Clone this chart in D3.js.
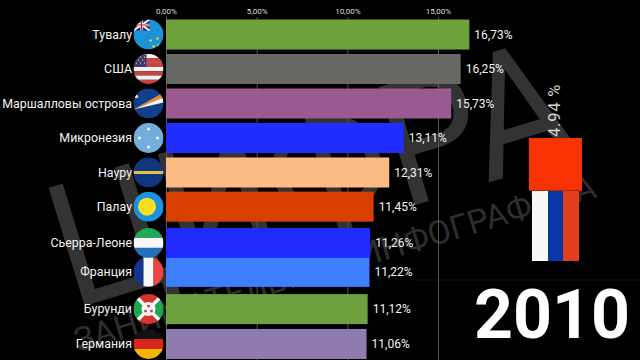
<!DOCTYPE html>
<html>
<head>
<meta charset="utf-8">
<script src="https://cdn.jsdelivr.net/npm/d3@7"></script>
<style>
  html, body { margin: 0; padding: 0; background: #000; overflow: hidden; }
  text { font-family: Roboto, sans-serif; }
</style>
</head>
<body>
<div id="graph-goes-here"></div>
<script>
const countries = ["Тувалу", "США", "Маршалловы острова", "Микронезия", "Науру", "Палау", "Сьерра-Леоне", "Франция", "Бурунди", "Германия"];
const flagCodes = ["tv", "us", "mh", "fm", "nr", "pw", "sl", "fr", "bi", "de"];
const shares = [16.73, 16.25, 15.73, 13.11, 12.31, 11.45, 11.26, 11.22, 11.12, 11.06];
const barColors = ["#6fa23c", "#666863", "#9a5a91", "#1f2eff", "#fdbb84", "#d83f00", "#1f2bff", "#3d7fff", "#6fa23f", "#8f7bb0"];
// the frame is caught mid-animation, so ranks are not all whole numbers
const ranks = [0, 1, 2, 3, 4, 4.99, 6.04, 6.88, 7.96, 8.97];
const axisTicks = [0, 5, 10, 15];

const russiaShare = 4.94;
const year = "2010";
const watermark = "ЦИФРА";
const watermarkSub = "ЗАНИМАТЕЛЬНАЯ ИНФОГРАФИКА";

const width = 640, height = 360;
const barH = 30;

const ru = d3.formatLocale({ decimal: ",", thousands: " ", grouping: [3], currency: ["", ""] });
const pct = v => ru.format(".2f")(v) + "%";

const x = d3.scaleLinear().domain([0, 15]).range([166, 438]);
const y = d3.scaleLinear().domain([0, 9]).range([19.5, 330]);
const russiaY = d3.scaleLinear().domain([0, russiaShare]).range([190.7, 138]);

const svg = d3.select("#graph-goes-here").append("svg")
    .attr("width", width)
    .attr("height", height)
    .style("display", "block");

svg.append("rect").attr("width", width).attr("height", height).attr("fill", "#000");

svg.append("defs").append("clipPath").attr("id", "flag-clip")
    .append("circle").attr("r", 15);

// Watermark goes behind everything
svg.append("text")
    .attr("transform", "translate(72,310) rotate(-17)")
    .attr("font-size", 174)
    .attr("textLength", 535)
    .attr("lengthAdjust", "spacingAndGlyphs")
    .attr("fill", "#333")
    .text(watermark);
svg.append("text")
    .attr("transform", "translate(78,352) rotate(-16.6)")
    .attr("font-size", 33)
    .attr("textLength", 543)
    .attr("lengthAdjust", "spacingAndGlyphs")
    .attr("fill", "#2e2e2e")
    .text(watermarkSub);

svg.append("line")
    .attr("x1", 415).attr("x2", width)
    .attr("y1", 280).attr("y2", 280)
    .attr("stroke", "#141414");

// Axis on top, tick lines run down behind the bars
const axis = svg.append("g")
    .attr("transform", "translate(0,17)")
    .call(d3.axisTop(x).tickValues(axisTicks).tickFormat(pct).tickSizeOuter(0).tickSizeInner(-343).tickPadding(0));
axis.select(".domain").remove();
axis.selectAll("line").attr("stroke", "#555").attr("stroke-width", 1);
axis.selectAll("text").attr("fill", "#ddd").attr("font-size", 8).attr("y", -3)
    .style("font-family", "Roboto, sans-serif");

function rect(g, fill, rx, ry, w, h) {
    g.append("rect").attr("x", rx).attr("y", ry).attr("width", w).attr("height", h).attr("fill", fill);
}

function dots(g, fill, r, pts) {
    pts.forEach(p => g.append("circle").attr("cx", p[0]).attr("cy", p[1]).attr("r", r).attr("fill", fill));
}

function drawFlag(g, code) {
    if (code === "tv") {
        rect(g, "#1c93d6", -15, -15, 30, 30);
        rect(g, "#1a2a6c", -15, -15, 16, 11);
        g.append("path").attr("d", "M-15,-15L1,-4M1,-15L-15,-4").attr("stroke", "#fff").attr("stroke-width", 1.8);
        g.append("path").attr("d", "M-7,-15V-4M-15,-9.5H1").attr("stroke", "#fff").attr("stroke-width", 2.4);
        g.append("path").attr("d", "M-7,-15V-4M-15,-9.5H1").attr("stroke", "#c8102e").attr("stroke-width", 1.2);
        dots(g, "#e8d83a", 1.2, [[9, 4], [5, 12], [10, 11], [2, 6]]);
    } else if (code === "us") {
        d3.range(7).forEach(i => rect(g, i % 2 ? "#f2f2f2" : "#c8453f", -15, -15 + i * 4.3, 30, 4.3));
        rect(g, "#f2f2f2", -15, -15, 30, 4);
        rect(g, "#c8453f", -15, -11, 30, 4.3);
        rect(g, "#3c3b6e", -15, -15, 13, 13);
        dots(g, "#fff", 0.6, [[-12, -12], [-8, -12], [-4, -12], [-10, -9], [-6, -9], [-12, -6], [-8, -6], [-4, -6]]);
    } else if (code === "mh") {
        rect(g, "#123f8c", -15, -15, 30, 30);
        g.append("path").attr("d", "M-15,6L15,-11L15,-6Z").attr("fill", "#f08a2a");
        g.append("path").attr("d", "M-15,6L15,-6L15,-1Z").attr("fill", "#f4f4f4");
        dots(g, "#fff", 1.6, [[-12, -7]]);
    } else if (code === "fm") {
        rect(g, "#71aedd", -15, -15, 30, 30);
        dots(g, "#f4f8fb", 1.5, [[0, -9], [0, 9], [-9, 0], [9, 0]]);
    } else if (code === "nr") {
        rect(g, "#12357f", -15, -15, 30, 30);
        rect(g, "#e0c040", -15, -1.5, 30, 3);
    } else if (code === "pw") {
        rect(g, "#1c93e0", -15, -15, 30, 30);
        dots(g, "#f8e020", 9, [[-1.5, 0]]);
    } else if (code === "sl") {
        rect(g, "#1fa856", -15, -15, 30, 10);
        rect(g, "#f8f8f8", -15, -5, 30, 10);
        rect(g, "#1f72b8", -15, 5, 30, 10);
    } else if (code === "fr") {
        rect(g, "#12358f", -15, -15, 10, 30);
        rect(g, "#f8f8f8", -5, -15, 10, 30);
        rect(g, "#e8483f", 5, -15, 10, 30);
    } else if (code === "bi") {
        rect(g, "#d8342f", -15, -15, 30, 30);
        g.append("path").attr("d", "M-15,-15L0,0L-15,15ZM15,-15L0,0L15,15Z").attr("fill", "#1ba84e");
        g.append("path").attr("d", "M-15,-15L15,15M15,-15L-15,15").attr("stroke", "#f6f6f6").attr("stroke-width", 3.5);
        dots(g, "#f6f6f6", 7, [[0, 0]]);
        dots(g, "#d8342f", 1.4, [[0, -3], [-3, 2], [3, 2]]);
    } else if (code === "de") {
        rect(g, "#111", -15, -15, 30, 10);
        rect(g, "#d8261c", -15, -5, 30, 10);
        rect(g, "#f4b400", -15, 5, 30, 10);
    }
}

const rows = countries.map((name, i) => ({ name, code: flagCodes[i], value: shares[i], color: barColors[i], rank: ranks[i] }));

// reversed so upper rows end up above lower ones where they overlap
const row = svg.selectAll("g.row")
    .data(rows.slice().reverse())
    .join("g")
    .attr("class", "row")
    .attr("transform", d => `translate(0,${y(d.rank)})`);

row.append("rect")
    .attr("x", x(0))
    .attr("width", d => x(d.value) - x(0))
    .attr("height", barH)
    .attr("fill", d => d.color);

row.append("text")
    .attr("x", 132)
    .attr("y", barH / 2)
    .attr("dy", "0.35em")
    .attr("text-anchor", "end")
    .attr("font-size", 12.4)
    .attr("fill", "#f2f2f2")
    .text(d => d.name);

row.append("text")
    .attr("x", d => x(d.value) + 5)
    .attr("y", barH / 2)
    .attr("dy", "0.35em")
    .attr("font-size", 12)
    .attr("fill", "#f2f2f2")
    .text(d => pct(d.value));

row.append("g")
    .attr("transform", `translate(148.5,${barH / 2})`)
    .append("g")
    .attr("clip-path", "url(#flag-clip)")
    .each(function (d) { drawFlag(d3.select(this), d.code); });

// Russia block on the right
const russia = svg.append("g");
rect(russia, "#f8f8f6", 532, 191, 16, 70);
rect(russia, "#0a37a8", 548, 191, 15, 70);
rect(russia, "#e03e1c", 563, 191, 16, 70);
russia.append("rect")
    .attr("x", 529)
    .attr("y", russiaY(russiaShare))
    .attr("width", 53)
    .attr("height", russiaY(0) - russiaY(russiaShare))
    .attr("fill", "#f83200");
russia.append("text")
    .attr("transform", `translate(560,${russiaY(russiaShare) - 1}) rotate(-90)`)
    .attr("font-size", 16.5)
    .attr("letter-spacing", 0.8)
    .attr("fill", "#d8d8d8")
    .text(russiaShare.toFixed(2) + " %");

svg.append("text")
    .attr("x", 552)
    .attr("y", 338)
    .attr("text-anchor", "middle")
    .attr("font-size", 68)
    .attr("font-weight", 700)
    .attr("fill", "#fff")
    .text(year);
</script>
</body>
</html>
